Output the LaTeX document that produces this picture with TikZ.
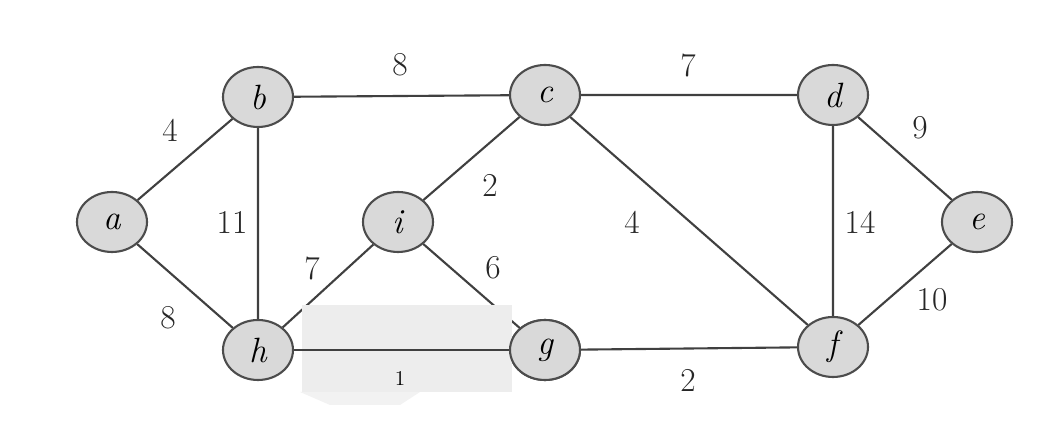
\documentclass[tikz,border=0pt]{standalone}
\usetikzlibrary{shapes.geometric}
\begin{document}
\begin{tikzpicture}[x=0.02cm,y=-0.02cm,
  vtx/.style={ellipse,draw=black!70,line width=1.2pt,fill=black!15,minimum width=1.4cm,minimum height=1.2cm,inner sep=0pt,font=\fontsize{20}{22}\selectfont\itshape},
  edge/.style={draw=black!75,line width=1.2pt},
  wt/.style={font=\fontsize{19}{21}\selectfont,text=black!85}]
\useasboundingbox (0,0) rectangle (1064,448);
\node[vtx] (a) at (112,222) {a};
\node[vtx] (b) at (258,97) {b};
\node[vtx] (c) at (545,95) {c};
\node[vtx] (d) at (833,95) {d};
\node[vtx] (e) at (977,222) {e};
\node[vtx] (f) at (833,347) {f};
\node[vtx] (h) at (258,350) {h};
\node[vtx] (i) at (398,222) {i};
\draw[edge] (a)--(b) (a)--(h) (b)--(c) (b)--(h) (c)--(d) (c)--(i) (c)--(f) (d)--(e) (d)--(f) (e)--(f) (h)--(i);
\node[vtx] (g) at (545,350) {g};
\draw[edge] (i)--(g) (g)--(f);
\fill[black!7] (302,305) rectangle (512,392);
\fill[black!5] (300,392) -- (420,392) -- (400,405) -- (330,405) -- cycle;
\draw[edge] (h)--(g);
\node[vtx] at (545,350) {g};
\node[font=\fontsize{12}{14}\selectfont] (w1) at (400,378) {1};
\node[wt] (w1) at (170,130) {4};
\node[wt] (w2) at (400,65) {8};
\node[wt] (w3) at (688,65) {7};
\node[wt] (w4) at (920,128) {9};
\node[wt] (w5) at (232,222) {11};
\node[wt] (w6) at (490,185) {2};
\node[wt] (w7) at (632,222) {4};
\node[wt] (w8) at (860,222) {14};
\node[wt] (w9) at (312,268) {7};
\node[wt] (w10) at (493,268) {6};
\node[wt] (w11) at (168,318) {8};
\node[wt] (w12) at (932,300) {10};
\node[wt] (w13) at (688,380) {2};
\end{tikzpicture}
\end{document}
